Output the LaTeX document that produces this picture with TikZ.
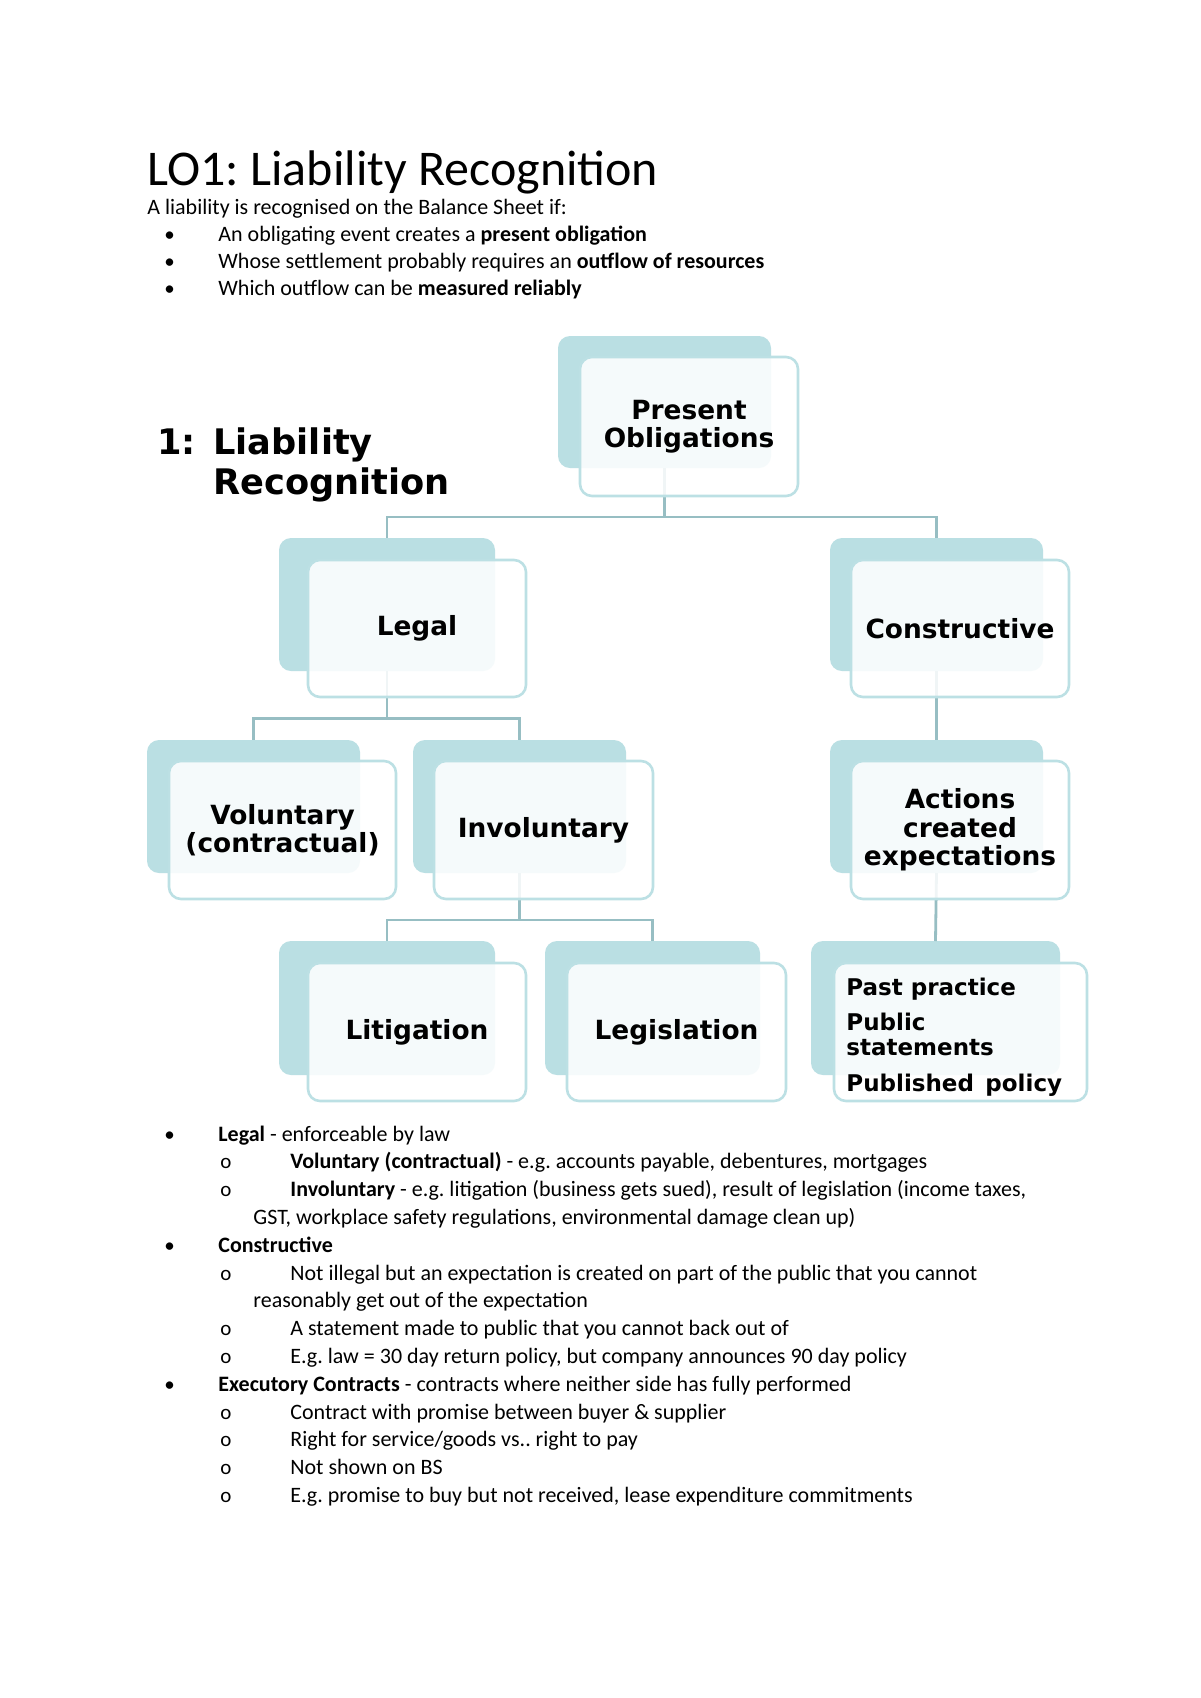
\documentclass[tikz,border=0pt]{standalone}
\usepackage{fontspec}
\setmainfont{Carlito}
\newfontfamily\vf{DejaVu Sans}
\definecolor{tealbk}{HTML}{BADFE3}
\definecolor{tealfr}{HTML}{BCE0E4}
\definecolor{connc}{HTML}{97BEC3}
\frenchspacing
\begin{document}
\begin{tikzpicture}[x=0.5pt,y=-0.5pt,
  backbox/.style={fill=tealbk, rounded corners=6pt, inner sep=0pt, outer sep=0pt},
  frontbox/.style={fill=white, fill opacity=0.86, text opacity=1, draw=tealfr, line width=1.3pt,
    rounded corners=6pt, inner sep=0pt, outer sep=0pt, align=center,
    font=\vf\bfseries\fontsize{13.2}{14.2}\selectfont},
  conn/.style={draw=connc, line width=1.4pt},
  txt/.style={anchor=base west, inner sep=0pt, font=\fontsize{11}{13}\selectfont},
  bul/.style={anchor=base west, inner sep=0pt, font=\fontsize{10.5}{13}\selectfont},
  head/.style={anchor=base west, inner sep=0pt, font=\vf\bfseries\fontsize{17.6}{20}\selectfont},
  ptxt/.style={anchor=base west, inner sep=0pt, font=\vf\bfseries\fontsize{11.5}{13}\selectfont}]
\useasboundingbox (0,0) rectangle (1200,1698);
\fill[white] (0,0) rectangle (1200,1698);

% title and intro
\node[anchor=base west, inner sep=0pt, font=\fontsize{25}{30}\selectfont] (title) at (147,185) {LO1: Liability Recognition};
\node[txt] (intro) at (147,214) {A liability is recognised on the Balance Sheet if:};
\node[bul] (ib1) at (164,241) {•};
\node[txt] (i1) at (218,241) {An obligating event creates a \textbf{present obligation}};
\node[bul] (ib2) at (164,268) {•};
\node[txt] (i2) at (218,268) {Whose settlement probably requires an \textbf{outflow of resources}};
\node[bul] (ib3) at (164,295) {•};
\node[txt] (i3) at (218,295) {Which outflow can be \textbf{measured reliably}};

% heading beside the chart
\node[head] (h1) at (157,454) {1:};
\node[head] (h2) at (213,454) {Liability};
\node[head] (h3) at (213,494) {Recognition};

% back boxes
\node[backbox, minimum width=106.5pt, minimum height=66pt] (pob) at (664.5,402) {};
\node[backbox, minimum width=108pt, minimum height=66.5pt] (legb) at (387,604.5) {};
\node[backbox, minimum width=106.5pt, minimum height=66.5pt] (conb) at (936.5,604.5) {};
\node[backbox, minimum width=106.5pt, minimum height=66.5pt] (volb) at (253.5,806.5) {};
\node[backbox, minimum width=106.5pt, minimum height=66.5pt] (invb) at (519.5,806.5) {};
\node[backbox, minimum width=106.5pt, minimum height=66.5pt] (actb) at (936.5,806.5) {};
\node[backbox, minimum width=108pt, minimum height=67pt] (litb) at (387,1008) {};
\node[backbox, minimum width=107.5pt, minimum height=67pt] (lgsb) at (652.5,1008) {};
\node[backbox, minimum width=124.5pt, minimum height=67pt] (pastb) at (935.5,1008) {};

% connectors
\coordinate (j1) at (664.5,517);
\draw[conn] (pob.south) -- (j1);
\draw[conn] (j1) -| (legb.north);
\draw[conn] (j1) -| (conb.north);
\coordinate (j2) at (387,718.5);
\draw[conn] (legb.south) -- (j2);
\draw[conn] (j2) -| (volb.north);
\draw[conn] (j2) -| (invb.north);
\draw[conn] (conb.south) -- (actb.north);
\coordinate (j3) at (519.5,920);
\draw[conn] (invb.south) -- (j3);
\draw[conn] (j3) -| (litb.north);
\draw[conn] (j3) -| (lgsb.north);
\draw[conn] (actb.south) -- (pastb.north);

% front boxes
\node[frontbox, minimum width=109pt, minimum height=69.5pt] (po) at (689,426.5) {Present\\Obligations};
\node[frontbox, minimum width=109pt, minimum height=68.5pt] (leg) at (417,628.5) {Legal};
\node[frontbox, minimum width=109pt, minimum height=68.5pt] (con) at (960,628.5) {Constructive};
\node[frontbox, minimum width=113.5pt, minimum height=69pt] (vol) at (282.5,830) {Voluntary\\(contractual)};
\node[frontbox, minimum width=109.5pt, minimum height=69pt] (inv) at (543.5,830) {Involuntary};
\node[frontbox, minimum width=109pt, minimum height=69pt] (act) at (960,830) {Actions\\created\\expectations};
\node[frontbox, minimum width=109pt, minimum height=69pt] (lit) at (417,1032) {Litigation};
\node[frontbox, minimum width=109.5pt, minimum height=69pt] (lgs) at (676.5,1032) {Legislation};
\node[frontbox, minimum width=126.5pt, minimum height=69pt] (past) at (960.5,1032) {};
\node[ptxt] (p1) at (846,995) {Past practice};
\node[ptxt] (p2) at (846,1030) {Public};
\node[ptxt] (p3) at (846,1055) {statements};
\node[ptxt] (p4) at (846,1091) {Published\hspace{0.15em} policy};

% notes below
\node[bul] (b1) at (164,1141) {•};
\node[txt] (l1) at (218,1141) {\textbf{Legal} - enforceable by law};
\node[bul] (o1) at (220,1168.8) {o};
\node[txt] (l2) at (290,1168.8) {\textbf{Voluntary (contractual)} - e.g. accounts payable, debentures, mortgages};
\node[bul] (o2) at (220,1196.6) {o};
\node[txt] (l3) at (290,1196.6) {\textbf{Involuntary} - e.g. litigation (business gets sued), result of legislation (income taxes,};
\node[txt] (l4) at (253,1224.4) {GST, workplace safety regulations, environmental damage clean up)};
\node[bul] (b2) at (164,1252.2) {•};
\node[txt] (l5) at (218,1252.2) {\textbf{Constructive}};
\node[bul] (o3) at (220,1280) {o};
\node[txt] (l6) at (290,1280) {Not illegal but an expectation is created on part of the public that you cannot};
\node[txt] (l7) at (253,1307.8) {reasonably get out of the expectation};
\node[bul] (o4) at (220,1335.6) {o};
\node[txt] (l8) at (290,1335.6) {A statement made to public that you cannot back out of};
\node[bul] (o5) at (220,1363.4) {o};
\node[txt] (l9) at (290,1363.4) {E.g. law = 30 day return policy, but company announces 90 day policy};
\node[bul] (b3) at (164,1391.2) {•};
\node[txt] (l10) at (218,1391.2) {\textbf{Executory Contracts} - contracts where neither side has fully performed};
\node[bul] (o6) at (220,1419) {o};
\node[txt] (l11) at (290,1419) {Contract with promise between buyer \& supplier};
\node[bul] (o7) at (220,1446.8) {o};
\node[txt] (l12) at (290,1446.8) {Right for service/goods vs.. right to pay};
\node[bul] (o8) at (220,1474.6) {o};
\node[txt] (l13) at (290,1474.6) {Not shown on BS};
\node[bul] (o9) at (220,1502.4) {o};
\node[txt] (l14) at (290,1502.4) {E.g. promise to buy but not received, lease expenditure commitments};
\end{tikzpicture}
\end{document}
